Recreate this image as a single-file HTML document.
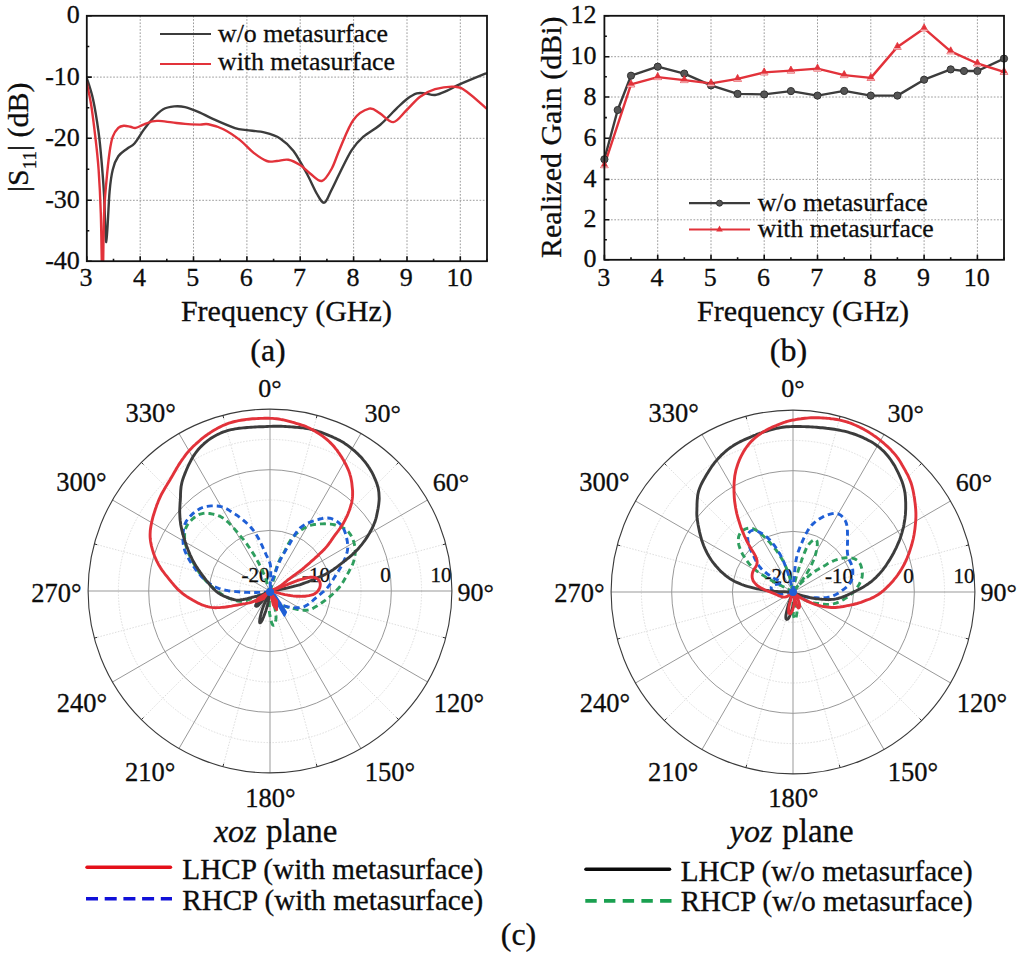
<!DOCTYPE html><html><head><meta charset="utf-8"><style>html,body{margin:0;padding:0;background:#fff;}svg{display:block;}text{font-family:"Liberation Serif",serif;fill:#0d0d0d;stroke:#0d0d0d;stroke-width:0.3px;}</style></head><body>
<svg width="1025" height="959" viewBox="0 0 1025 959">
<line x1="140.2" y1="15.8" x2="140.2" y2="261.2" stroke="#9c9c9c" stroke-width="1" stroke-dasharray="1.7,1.6"/>
<line x1="193.5" y1="15.8" x2="193.5" y2="261.2" stroke="#9c9c9c" stroke-width="1" stroke-dasharray="1.7,1.6"/>
<line x1="246.9" y1="15.8" x2="246.9" y2="261.2" stroke="#9c9c9c" stroke-width="1" stroke-dasharray="1.7,1.6"/>
<line x1="300.2" y1="15.8" x2="300.2" y2="261.2" stroke="#9c9c9c" stroke-width="1" stroke-dasharray="1.7,1.6"/>
<line x1="353.6" y1="15.8" x2="353.6" y2="261.2" stroke="#9c9c9c" stroke-width="1" stroke-dasharray="1.7,1.6"/>
<line x1="407.0" y1="15.8" x2="407.0" y2="261.2" stroke="#9c9c9c" stroke-width="1" stroke-dasharray="1.7,1.6"/>
<line x1="460.3" y1="15.8" x2="460.3" y2="261.2" stroke="#9c9c9c" stroke-width="1" stroke-dasharray="1.7,1.6"/>
<line x1="86.8" y1="77.1" x2="487.0" y2="77.1" stroke="#9c9c9c" stroke-width="1" stroke-dasharray="1.7,1.6"/>
<line x1="86.8" y1="138.3" x2="487.0" y2="138.3" stroke="#9c9c9c" stroke-width="1" stroke-dasharray="1.7,1.6"/>
<line x1="86.8" y1="200.3" x2="487.0" y2="200.3" stroke="#9c9c9c" stroke-width="1" stroke-dasharray="1.7,1.6"/>
<path d="M86.8,261.2 V256.2 M113.5,261.2 V258.7 M140.2,261.2 V256.2 M166.8,261.2 V258.7 M193.5,261.2 V256.2 M220.2,261.2 V258.7 M246.9,261.2 V256.2 M273.6,261.2 V258.7 M300.2,261.2 V256.2 M326.9,261.2 V258.7 M353.6,261.2 V256.2 M380.3,261.2 V258.7 M407.0,261.2 V256.2 M433.6,261.2 V258.7 M460.3,261.2 V256.2 M487.0,261.2 V258.7 M86.8,15.8 H91.8 M86.8,77.1 H91.8 M86.8,138.3 H91.8 M86.8,200.3 H91.8 M86.8,261.2 H91.8 M86.8,46.5 H89.3 M86.8,107.7 H89.3 M86.8,169.3 H89.3 M86.8,230.8 H89.3" stroke="#111" stroke-width="1.6" fill="none"/>
<clipPath id="ca"><rect x="86.8" y="15.8" width="400.2" height="245.4"/></clipPath>
<g clip-path="url(#ca)" fill="none" stroke-linejoin="round" stroke-linecap="round">
<path d="M86.6,77.5 C87.7,81.2 91.1,90.3 93.1,99.4 C95.1,108.5 97.1,121.4 98.6,132.3 C100.1,143.2 101.0,154.5 101.9,165.1 C102.8,175.7 103.4,183.0 104.1,195.8 C104.8,208.6 105.4,242.7 106.3,242.0 C107.2,241.3 108.5,203.5 109.6,191.4 C110.7,179.3 111.3,175.3 112.8,169.5 C114.2,163.7 115.9,159.8 118.3,156.3 C120.7,152.8 124.4,150.9 127.1,148.7 C129.8,146.5 132.0,146.3 134.7,143.2 C137.4,140.1 140.6,134.1 143.5,130.1 C146.4,126.1 149.0,122.6 152.3,119.1 C155.6,115.6 159.5,111.4 163.2,109.3 C166.8,107.2 170.5,106.8 174.2,106.4 C177.8,106.0 180.8,106.1 185.1,107.1 C189.4,108.1 195.6,110.7 200.0,112.6 C204.4,114.5 205.9,115.8 211.7,118.4 C217.5,121.0 229.2,126.1 235.0,128.1 C240.8,130.0 241.7,129.3 246.7,130.1 C251.7,130.8 259.5,131.2 265.1,132.6 C270.7,134.0 275.4,135.3 280.1,138.4 C284.8,141.5 289.1,145.1 293.5,150.9 C297.9,156.8 302.9,166.3 306.8,173.5 C310.7,180.7 314.1,189.1 317.0,194.0 C319.9,198.9 322.0,203.2 324.3,202.7 C326.6,202.2 328.4,196.0 331.0,191.0 C333.6,186.0 336.6,179.3 340.0,172.5 C343.4,165.7 347.8,156.1 351.7,150.1 C355.6,144.1 358.7,140.9 363.4,136.7 C368.1,132.5 374.4,129.7 380.0,125.0 C385.6,120.3 392.2,112.7 396.7,108.4 C401.1,104.1 403.3,101.7 406.7,99.2 C410.1,96.7 413.7,94.4 416.8,93.4 C419.9,92.4 422.1,93.1 425.1,93.4 C428.2,93.7 431.5,95.4 435.1,95.0 C438.7,94.6 442.6,92.7 446.8,90.9 C451.0,89.1 453.5,87.1 460.1,84.2 C466.7,81.3 481.9,75.1 486.3,73.3" stroke="#3c3c3c" stroke-width="2.4"/>
<path d="M86.6,81.9 C87.3,85.6 89.5,94.7 91.0,103.8 C92.5,112.9 94.0,125.6 95.3,136.6 C96.6,147.5 97.7,156.7 98.6,169.5 C99.5,182.3 100.3,197.9 100.8,213.3 C101.3,228.7 101.6,253.9 101.8,262.0 L103.2,262.0 C103.3,253.9 103.6,226.5 104.1,213.3 C104.6,200.1 105.4,192.8 106.3,182.6 C107.2,172.4 108.5,159.7 109.6,152.0 C110.7,144.3 111.3,140.6 112.8,136.6 C114.2,132.6 116.5,129.7 118.3,127.9 C120.1,126.1 121.8,125.9 123.8,125.7 C125.8,125.5 128.4,126.4 130.4,126.8 C132.4,127.2 133.6,128.3 135.8,127.9 C138.0,127.5 140.8,125.7 143.5,124.6 C146.2,123.5 149.8,121.9 152.3,121.3 C154.9,120.7 155.5,120.7 158.8,120.9 C162.1,121.1 167.6,121.9 172.0,122.4 C176.4,122.9 180.4,123.5 185.1,123.9 C189.8,124.3 196.1,124.5 200.0,124.6 C203.9,124.6 204.5,123.4 208.4,124.2 C212.3,125.0 218.1,126.5 223.4,129.2 C228.7,131.8 235.0,136.2 240.0,140.1 C245.0,144.0 248.9,149.1 253.4,152.6 C257.9,156.1 262.9,159.6 266.8,161.0 C270.7,162.4 273.2,161.2 276.8,161.0 C280.4,160.8 284.5,159.1 288.4,159.8 C292.3,160.5 296.5,162.8 300.1,165.1 C303.7,167.4 306.5,170.8 310.1,173.5 C313.7,176.2 318.2,181.8 321.8,181.0 C325.4,180.2 328.8,173.9 331.8,168.5 C334.8,163.1 336.4,156.5 340.0,148.4 C343.6,140.3 348.5,126.6 353.4,120.0 C358.3,113.4 364.8,109.8 369.2,108.7 C373.6,107.6 376.0,111.2 380.0,113.4 C384.0,115.6 388.9,122.7 393.4,122.1 C397.8,121.5 402.2,114.2 406.7,110.0 C411.1,105.8 415.4,100.2 420.1,96.7 C424.8,93.2 429.3,90.9 435.1,89.2 C440.9,87.5 449.8,86.3 455.1,86.7 C460.4,87.1 461.6,88.1 466.8,91.7 C472.0,95.3 483.1,105.6 486.3,108.4" stroke="#e2323a" stroke-width="2.4"/>
</g>
<rect x="86.8" y="15.8" width="400.2" height="245.4" fill="none" stroke="#111" stroke-width="1.8"/>
<line x1="160" y1="34" x2="211" y2="34" stroke="#3c3c3c" stroke-width="2.2"/>
<line x1="160" y1="64" x2="211" y2="64" stroke="#e2323a" stroke-width="2.2"/>
<text x="218.0" y="41.6" font-size="26.0" text-anchor="start" textLength="170" lengthAdjust="spacingAndGlyphs">w/o metasurface</text>
<text x="218.0" y="70.3" font-size="26.0" text-anchor="start" textLength="177" lengthAdjust="spacingAndGlyphs">with metasurface</text>
<text x="86.1" y="286.4" font-size="26.0" text-anchor="middle" >3</text>
<text x="139.5" y="286.4" font-size="26.0" text-anchor="middle" >4</text>
<text x="192.8" y="286.4" font-size="26.0" text-anchor="middle" >5</text>
<text x="246.2" y="286.4" font-size="26.0" text-anchor="middle" >6</text>
<text x="299.5" y="286.4" font-size="26.0" text-anchor="middle" >7</text>
<text x="352.9" y="286.4" font-size="26.0" text-anchor="middle" >8</text>
<text x="406.3" y="286.4" font-size="26.0" text-anchor="middle" >9</text>
<text x="459.6" y="286.4" font-size="26.0" text-anchor="middle" >10</text>
<text x="79.8" y="23.4" font-size="26.0" text-anchor="end" >0</text>
<text x="79.8" y="84.7" font-size="26.0" text-anchor="end" >-10</text>
<text x="79.8" y="145.9" font-size="26.0" text-anchor="end" >-20</text>
<text x="79.8" y="207.9" font-size="26.0" text-anchor="end" >-30</text>
<text x="79.8" y="268.8" font-size="26.0" text-anchor="end" >-40</text>
<text x="286.4" y="321.3" font-size="30.0" text-anchor="middle" textLength="211" lengthAdjust="spacingAndGlyphs">Frequency (GHz)</text>
<text x="268.0" y="361.0" font-size="32.0" text-anchor="middle" >(a)</text>
<text transform="translate(27.8,192) rotate(-90)" font-size="30">|S<tspan font-size="19" dy="8">11</tspan><tspan dy="-8">| (dB)</tspan></text>
<line x1="657.7" y1="15.8" x2="657.7" y2="259.8" stroke="#9c9c9c" stroke-width="1" stroke-dasharray="1.7,1.6"/>
<line x1="711.0" y1="15.8" x2="711.0" y2="259.8" stroke="#9c9c9c" stroke-width="1" stroke-dasharray="1.7,1.6"/>
<line x1="764.2" y1="15.8" x2="764.2" y2="259.8" stroke="#9c9c9c" stroke-width="1" stroke-dasharray="1.7,1.6"/>
<line x1="817.5" y1="15.8" x2="817.5" y2="259.8" stroke="#9c9c9c" stroke-width="1" stroke-dasharray="1.7,1.6"/>
<line x1="870.8" y1="15.8" x2="870.8" y2="259.8" stroke="#9c9c9c" stroke-width="1" stroke-dasharray="1.7,1.6"/>
<line x1="924.1" y1="15.8" x2="924.1" y2="259.8" stroke="#9c9c9c" stroke-width="1" stroke-dasharray="1.7,1.6"/>
<line x1="977.4" y1="15.8" x2="977.4" y2="259.8" stroke="#9c9c9c" stroke-width="1" stroke-dasharray="1.7,1.6"/>
<line x1="604.4" y1="219.8" x2="1004.0" y2="219.8" stroke="#9c9c9c" stroke-width="1" stroke-dasharray="1.7,1.6"/>
<line x1="604.4" y1="179.4" x2="1004.0" y2="179.4" stroke="#9c9c9c" stroke-width="1" stroke-dasharray="1.7,1.6"/>
<line x1="604.4" y1="138.2" x2="1004.0" y2="138.2" stroke="#9c9c9c" stroke-width="1" stroke-dasharray="1.7,1.6"/>
<line x1="604.4" y1="97.0" x2="1004.0" y2="97.0" stroke="#9c9c9c" stroke-width="1" stroke-dasharray="1.7,1.6"/>
<line x1="604.4" y1="56.7" x2="1004.0" y2="56.7" stroke="#9c9c9c" stroke-width="1" stroke-dasharray="1.7,1.6"/>
<path d="M604.4,259.8 V254.8 M631.0,259.8 V257.3 M657.7,259.8 V254.8 M684.3,259.8 V257.3 M711.0,259.8 V254.8 M737.6,259.8 V257.3 M764.2,259.8 V254.8 M790.9,259.8 V257.3 M817.5,259.8 V254.8 M844.2,259.8 V257.3 M870.8,259.8 V254.8 M897.4,259.8 V257.3 M924.1,259.8 V254.8 M950.7,259.8 V257.3 M977.4,259.8 V254.8 M1004.0,259.8 V257.3 M604.4,259.8 H609.4 M604.4,219.8 H609.4 M604.4,179.4 H609.4 M604.4,138.2 H609.4 M604.4,97.0 H609.4 M604.4,56.7 H609.4 M604.4,15.8 H609.4 M604.4,239.8 H606.9 M604.4,199.6 H606.9 M604.4,158.8 H606.9 M604.4,117.6 H606.9 M604.4,76.8 H606.9 M604.4,36.2 H606.9" stroke="#111" stroke-width="1.6" fill="none"/>
<path d="M604.4,159.3 L617.7,110.0 L631.0,75.7 L657.7,66.7 L684.3,73.6 L711.0,85.4 L737.6,93.9 L764.2,94.4 L790.9,91.1 L817.5,95.6 L844.2,90.9 L870.8,95.6 L897.4,95.6 L924.1,79.7 L950.7,69.4 L964.0,71.0 L977.4,71.0 L1004.0,58.6" stroke="#3c3c3c" stroke-width="2.4" fill="none" stroke-linejoin="round"/>
<path d="M604.4,165.2 L631.0,84.4 L657.7,77.1 L684.3,80.1 L711.0,83.4 L737.6,78.9 L764.2,72.4 L790.9,70.6 L817.5,68.6 L844.2,75.1 L870.8,77.9 L897.4,46.9 L924.1,28.4 L950.7,51.3 L977.4,63.5 L1004.0,71.8" stroke="#e2323a" stroke-width="2.4" fill="none" stroke-linejoin="round"/>
<circle cx="604.4" cy="159.3" r="3.6" fill="#555" stroke="#333" stroke-width="1"/>
<circle cx="617.7" cy="110.0" r="3.6" fill="#555" stroke="#333" stroke-width="1"/>
<circle cx="631.0" cy="75.7" r="3.6" fill="#555" stroke="#333" stroke-width="1"/>
<circle cx="657.7" cy="66.7" r="3.6" fill="#555" stroke="#333" stroke-width="1"/>
<circle cx="684.3" cy="73.6" r="3.6" fill="#555" stroke="#333" stroke-width="1"/>
<circle cx="711.0" cy="85.4" r="3.6" fill="#555" stroke="#333" stroke-width="1"/>
<circle cx="737.6" cy="93.9" r="3.6" fill="#555" stroke="#333" stroke-width="1"/>
<circle cx="764.2" cy="94.4" r="3.6" fill="#555" stroke="#333" stroke-width="1"/>
<circle cx="790.9" cy="91.1" r="3.6" fill="#555" stroke="#333" stroke-width="1"/>
<circle cx="817.5" cy="95.6" r="3.6" fill="#555" stroke="#333" stroke-width="1"/>
<circle cx="844.2" cy="90.9" r="3.6" fill="#555" stroke="#333" stroke-width="1"/>
<circle cx="870.8" cy="95.6" r="3.6" fill="#555" stroke="#333" stroke-width="1"/>
<circle cx="897.4" cy="95.6" r="3.6" fill="#555" stroke="#333" stroke-width="1"/>
<circle cx="924.1" cy="79.7" r="3.6" fill="#555" stroke="#333" stroke-width="1"/>
<circle cx="950.7" cy="69.4" r="3.6" fill="#555" stroke="#333" stroke-width="1"/>
<circle cx="964.0" cy="71.0" r="3.6" fill="#555" stroke="#333" stroke-width="1"/>
<circle cx="977.4" cy="71.0" r="3.6" fill="#555" stroke="#333" stroke-width="1"/>
<circle cx="1004.0" cy="58.6" r="3.6" fill="#555" stroke="#333" stroke-width="1"/>
<path d="M604.4,160.7 L608.2,167.7 L600.6,167.7 Z" fill="#e2323a" stroke="#e2323a" stroke-width="0.8"/>
<rect x="600.9" y="166.4" width="7" height="1.5" fill="#f4b0b4"/>
<path d="M631.0,79.9 L634.8,86.9 L627.2,86.9 Z" fill="#e2323a" stroke="#e2323a" stroke-width="0.8"/>
<rect x="627.5" y="85.6" width="7" height="1.5" fill="#f4b0b4"/>
<path d="M657.7,72.6 L661.5,79.6 L653.9,79.6 Z" fill="#e2323a" stroke="#e2323a" stroke-width="0.8"/>
<rect x="654.2" y="78.3" width="7" height="1.5" fill="#f4b0b4"/>
<path d="M684.3,75.6 L688.1,82.6 L680.5,82.6 Z" fill="#e2323a" stroke="#e2323a" stroke-width="0.8"/>
<rect x="680.8" y="81.3" width="7" height="1.5" fill="#f4b0b4"/>
<path d="M711.0,78.9 L714.8,85.9 L707.2,85.9 Z" fill="#e2323a" stroke="#e2323a" stroke-width="0.8"/>
<rect x="707.5" y="84.6" width="7" height="1.5" fill="#f4b0b4"/>
<path d="M737.6,74.4 L741.4,81.4 L733.8,81.4 Z" fill="#e2323a" stroke="#e2323a" stroke-width="0.8"/>
<rect x="734.1" y="80.1" width="7" height="1.5" fill="#f4b0b4"/>
<path d="M764.2,67.9 L768.0,74.9 L760.4,74.9 Z" fill="#e2323a" stroke="#e2323a" stroke-width="0.8"/>
<rect x="760.7" y="73.6" width="7" height="1.5" fill="#f4b0b4"/>
<path d="M790.9,66.1 L794.7,73.1 L787.1,73.1 Z" fill="#e2323a" stroke="#e2323a" stroke-width="0.8"/>
<rect x="787.4" y="71.8" width="7" height="1.5" fill="#f4b0b4"/>
<path d="M817.5,64.1 L821.3,71.1 L813.7,71.1 Z" fill="#e2323a" stroke="#e2323a" stroke-width="0.8"/>
<rect x="814.0" y="69.8" width="7" height="1.5" fill="#f4b0b4"/>
<path d="M844.2,70.6 L848.0,77.6 L840.4,77.6 Z" fill="#e2323a" stroke="#e2323a" stroke-width="0.8"/>
<rect x="840.7" y="76.3" width="7" height="1.5" fill="#f4b0b4"/>
<path d="M870.8,73.4 L874.6,80.4 L867.0,80.4 Z" fill="#e2323a" stroke="#e2323a" stroke-width="0.8"/>
<rect x="867.3" y="79.1" width="7" height="1.5" fill="#f4b0b4"/>
<path d="M897.4,42.4 L901.2,49.4 L893.6,49.4 Z" fill="#e2323a" stroke="#e2323a" stroke-width="0.8"/>
<rect x="893.9" y="48.1" width="7" height="1.5" fill="#f4b0b4"/>
<path d="M924.1,23.9 L927.9,30.9 L920.3,30.9 Z" fill="#e2323a" stroke="#e2323a" stroke-width="0.8"/>
<rect x="920.6" y="29.6" width="7" height="1.5" fill="#f4b0b4"/>
<path d="M950.7,46.8 L954.5,53.8 L946.9,53.8 Z" fill="#e2323a" stroke="#e2323a" stroke-width="0.8"/>
<rect x="947.2" y="52.5" width="7" height="1.5" fill="#f4b0b4"/>
<path d="M977.4,59.0 L981.2,66.0 L973.6,66.0 Z" fill="#e2323a" stroke="#e2323a" stroke-width="0.8"/>
<rect x="973.9" y="64.7" width="7" height="1.5" fill="#f4b0b4"/>
<path d="M1004.0,67.3 L1007.8,74.3 L1000.2,74.3 Z" fill="#e2323a" stroke="#e2323a" stroke-width="0.8"/>
<rect x="1000.5" y="73.0" width="7" height="1.5" fill="#f4b0b4"/>
<rect x="604.4" y="15.8" width="399.6" height="244.0" fill="none" stroke="#111" stroke-width="1.8"/>
<line x1="689" y1="203.2" x2="750" y2="203.2" stroke="#3c3c3c" stroke-width="2.2"/>
<circle cx="719.5" cy="203.2" r="3" fill="#555" stroke="#333" stroke-width="1"/>
<line x1="689" y1="229.5" x2="750" y2="229.5" stroke="#e2323a" stroke-width="2.2"/>
<path d="M719.5,225.5 L722.8,231.5 L716.2,231.5 Z" fill="#e2323a"/>
<text x="757.7" y="211.1" font-size="26.0" text-anchor="start" textLength="170" lengthAdjust="spacingAndGlyphs">w/o metasurface</text>
<text x="757.7" y="237.4" font-size="26.0" text-anchor="start" textLength="176" lengthAdjust="spacingAndGlyphs">with metasurface</text>
<text x="603.7" y="286.4" font-size="26.0" text-anchor="middle" >3</text>
<text x="657.0" y="286.4" font-size="26.0" text-anchor="middle" >4</text>
<text x="710.3" y="286.4" font-size="26.0" text-anchor="middle" >5</text>
<text x="763.5" y="286.4" font-size="26.0" text-anchor="middle" >6</text>
<text x="816.8" y="286.4" font-size="26.0" text-anchor="middle" >7</text>
<text x="870.1" y="286.4" font-size="26.0" text-anchor="middle" >8</text>
<text x="923.4" y="286.4" font-size="26.0" text-anchor="middle" >9</text>
<text x="976.7" y="286.4" font-size="26.0" text-anchor="middle" >10</text>
<text x="596.5" y="267.3" font-size="26.0" text-anchor="end" >0</text>
<text x="596.5" y="227.3" font-size="26.0" text-anchor="end" >2</text>
<text x="596.5" y="186.9" font-size="26.0" text-anchor="end" >4</text>
<text x="596.5" y="145.7" font-size="26.0" text-anchor="end" >6</text>
<text x="596.5" y="104.5" font-size="26.0" text-anchor="end" >8</text>
<text x="596.5" y="64.2" font-size="26.0" text-anchor="end" >10</text>
<text x="596.5" y="23.3" font-size="26.0" text-anchor="end" >12</text>
<text x="803.0" y="321.3" font-size="30.0" text-anchor="middle" textLength="212" lengthAdjust="spacingAndGlyphs">Frequency (GHz)</text>
<text x="788.5" y="360.5" font-size="32.0" text-anchor="middle" >(b)</text>
<text transform="translate(561,258) rotate(-90)" font-size="30">Realized Gain (dBi)</text>
<circle cx="270.0" cy="591.0" r="30.3" fill="none" stroke="#dedede" stroke-width="1" stroke-dasharray="1.5,1.5"/>
<circle cx="270.0" cy="591.0" r="91.0" fill="none" stroke="#dedede" stroke-width="1" stroke-dasharray="1.5,1.5"/>
<circle cx="270.0" cy="591.0" r="151.6" fill="none" stroke="#dedede" stroke-width="1" stroke-dasharray="1.5,1.5"/>
<line x1="270.0" y1="591.0" x2="317.1" y2="415.3" stroke="#dedede" stroke-width="1" stroke-dasharray="1.5,1.5"/>
<line x1="270.0" y1="591.0" x2="398.6" y2="462.4" stroke="#dedede" stroke-width="1" stroke-dasharray="1.5,1.5"/>
<line x1="270.0" y1="591.0" x2="445.7" y2="543.9" stroke="#dedede" stroke-width="1" stroke-dasharray="1.5,1.5"/>
<line x1="270.0" y1="591.0" x2="445.7" y2="638.1" stroke="#dedede" stroke-width="1" stroke-dasharray="1.5,1.5"/>
<line x1="270.0" y1="591.0" x2="398.6" y2="719.6" stroke="#dedede" stroke-width="1" stroke-dasharray="1.5,1.5"/>
<line x1="270.0" y1="591.0" x2="317.1" y2="766.7" stroke="#dedede" stroke-width="1" stroke-dasharray="1.5,1.5"/>
<line x1="270.0" y1="591.0" x2="222.9" y2="766.7" stroke="#dedede" stroke-width="1" stroke-dasharray="1.5,1.5"/>
<line x1="270.0" y1="591.0" x2="141.4" y2="719.6" stroke="#dedede" stroke-width="1" stroke-dasharray="1.5,1.5"/>
<line x1="270.0" y1="591.0" x2="94.3" y2="638.1" stroke="#dedede" stroke-width="1" stroke-dasharray="1.5,1.5"/>
<line x1="270.0" y1="591.0" x2="94.3" y2="543.9" stroke="#dedede" stroke-width="1" stroke-dasharray="1.5,1.5"/>
<line x1="270.0" y1="591.0" x2="141.4" y2="462.4" stroke="#dedede" stroke-width="1" stroke-dasharray="1.5,1.5"/>
<line x1="270.0" y1="591.0" x2="222.9" y2="415.3" stroke="#dedede" stroke-width="1" stroke-dasharray="1.5,1.5"/>
<line x1="270.0" y1="591.0" x2="270.0" y2="409.1" stroke="#999" stroke-width="1"/>
<line x1="270.0" y1="591.0" x2="360.9" y2="433.5" stroke="#999" stroke-width="1"/>
<line x1="270.0" y1="591.0" x2="427.5" y2="500.0" stroke="#999" stroke-width="1"/>
<line x1="270.0" y1="591.0" x2="451.9" y2="591.0" stroke="#999" stroke-width="1"/>
<line x1="270.0" y1="591.0" x2="427.5" y2="681.9" stroke="#999" stroke-width="1"/>
<line x1="270.0" y1="591.0" x2="360.9" y2="748.5" stroke="#999" stroke-width="1"/>
<line x1="270.0" y1="591.0" x2="270.0" y2="772.9" stroke="#999" stroke-width="1"/>
<line x1="270.0" y1="591.0" x2="179.0" y2="748.5" stroke="#999" stroke-width="1"/>
<line x1="270.0" y1="591.0" x2="112.5" y2="682.0" stroke="#999" stroke-width="1"/>
<line x1="270.0" y1="591.0" x2="88.1" y2="591.0" stroke="#999" stroke-width="1"/>
<line x1="270.0" y1="591.0" x2="112.5" y2="500.0" stroke="#999" stroke-width="1"/>
<line x1="270.0" y1="591.0" x2="179.0" y2="433.5" stroke="#999" stroke-width="1"/>
<circle cx="270.0" cy="591.0" r="60.6" fill="none" stroke="#999" stroke-width="1"/>
<circle cx="270.0" cy="591.0" r="121.3" fill="none" stroke="#999" stroke-width="1"/>
<circle cx="270.0" cy="591.0" r="181.9" fill="none" stroke="#3a3a3a" stroke-width="1.1"/>
<path d="M317.1,415.3 L316.3,418.2 M398.6,462.4 L396.5,464.5 M445.7,543.9 L442.8,544.7 M445.7,638.1 L442.8,637.3 M398.6,719.6 L396.5,717.5 M317.1,766.7 L316.3,763.8 M222.9,766.7 L223.7,763.8 M141.4,719.6 L143.5,717.5 M94.3,638.1 L97.2,637.3 M94.3,543.9 L97.2,544.7 M141.4,462.4 L143.5,464.5 M222.9,415.3 L223.7,418.2" stroke="#333" stroke-width="1"/>
<text x="270.0" y="396.5" font-size="26.0" text-anchor="middle" >0°</text>
<text x="382.6" y="421.8" font-size="26.0" text-anchor="middle" >30°</text>
<text x="451.0" y="490.8" font-size="26.0" text-anchor="middle" >60°</text>
<text x="475.8" y="600.9" font-size="26.0" text-anchor="middle" >90°</text>
<text x="459.0" y="712.4" font-size="26.5" text-anchor="middle" >120°</text>
<text x="390.0" y="781.4" font-size="26.5" text-anchor="middle" >150°</text>
<text x="270.5" y="807.3" font-size="26.5" text-anchor="middle" >180°</text>
<text x="150.3" y="781.4" font-size="26.5" text-anchor="middle" >210°</text>
<text x="81.9" y="712.4" font-size="26.5" text-anchor="middle" >240°</text>
<text x="56.4" y="602.1" font-size="26.5" text-anchor="middle" >270°</text>
<text x="81.5" y="491.3" font-size="26.5" text-anchor="middle" >300°</text>
<text x="150.6" y="422.2" font-size="26.5" text-anchor="middle" >330°</text>
<text x="269.5" y="582.0" font-size="21.0" text-anchor="end" >-20</text>
<text x="330.1" y="582.0" font-size="21.0" text-anchor="end" >-10</text>
<text x="390.8" y="582.0" font-size="21.0" text-anchor="end" >0</text>
<text x="451.4" y="582.0" font-size="21.0" text-anchor="end" >10</text>
<circle cx="793.0" cy="592.0" r="30.3" fill="none" stroke="#dedede" stroke-width="1" stroke-dasharray="1.5,1.5"/>
<circle cx="793.0" cy="592.0" r="91.0" fill="none" stroke="#dedede" stroke-width="1" stroke-dasharray="1.5,1.5"/>
<circle cx="793.0" cy="592.0" r="151.6" fill="none" stroke="#dedede" stroke-width="1" stroke-dasharray="1.5,1.5"/>
<line x1="793.0" y1="592.0" x2="840.1" y2="416.3" stroke="#dedede" stroke-width="1" stroke-dasharray="1.5,1.5"/>
<line x1="793.0" y1="592.0" x2="921.6" y2="463.4" stroke="#dedede" stroke-width="1" stroke-dasharray="1.5,1.5"/>
<line x1="793.0" y1="592.0" x2="968.7" y2="544.9" stroke="#dedede" stroke-width="1" stroke-dasharray="1.5,1.5"/>
<line x1="793.0" y1="592.0" x2="968.7" y2="639.1" stroke="#dedede" stroke-width="1" stroke-dasharray="1.5,1.5"/>
<line x1="793.0" y1="592.0" x2="921.6" y2="720.6" stroke="#dedede" stroke-width="1" stroke-dasharray="1.5,1.5"/>
<line x1="793.0" y1="592.0" x2="840.1" y2="767.7" stroke="#dedede" stroke-width="1" stroke-dasharray="1.5,1.5"/>
<line x1="793.0" y1="592.0" x2="745.9" y2="767.7" stroke="#dedede" stroke-width="1" stroke-dasharray="1.5,1.5"/>
<line x1="793.0" y1="592.0" x2="664.4" y2="720.6" stroke="#dedede" stroke-width="1" stroke-dasharray="1.5,1.5"/>
<line x1="793.0" y1="592.0" x2="617.3" y2="639.1" stroke="#dedede" stroke-width="1" stroke-dasharray="1.5,1.5"/>
<line x1="793.0" y1="592.0" x2="617.3" y2="544.9" stroke="#dedede" stroke-width="1" stroke-dasharray="1.5,1.5"/>
<line x1="793.0" y1="592.0" x2="664.4" y2="463.4" stroke="#dedede" stroke-width="1" stroke-dasharray="1.5,1.5"/>
<line x1="793.0" y1="592.0" x2="745.9" y2="416.3" stroke="#dedede" stroke-width="1" stroke-dasharray="1.5,1.5"/>
<line x1="793.0" y1="592.0" x2="793.0" y2="410.1" stroke="#999" stroke-width="1"/>
<line x1="793.0" y1="592.0" x2="884.0" y2="434.5" stroke="#999" stroke-width="1"/>
<line x1="793.0" y1="592.0" x2="950.5" y2="501.0" stroke="#999" stroke-width="1"/>
<line x1="793.0" y1="592.0" x2="974.9" y2="592.0" stroke="#999" stroke-width="1"/>
<line x1="793.0" y1="592.0" x2="950.5" y2="682.9" stroke="#999" stroke-width="1"/>
<line x1="793.0" y1="592.0" x2="884.0" y2="749.5" stroke="#999" stroke-width="1"/>
<line x1="793.0" y1="592.0" x2="793.0" y2="773.9" stroke="#999" stroke-width="1"/>
<line x1="793.0" y1="592.0" x2="702.0" y2="749.5" stroke="#999" stroke-width="1"/>
<line x1="793.0" y1="592.0" x2="635.5" y2="683.0" stroke="#999" stroke-width="1"/>
<line x1="793.0" y1="592.0" x2="611.1" y2="592.0" stroke="#999" stroke-width="1"/>
<line x1="793.0" y1="592.0" x2="635.5" y2="501.0" stroke="#999" stroke-width="1"/>
<line x1="793.0" y1="592.0" x2="702.0" y2="434.5" stroke="#999" stroke-width="1"/>
<circle cx="793.0" cy="592.0" r="60.6" fill="none" stroke="#999" stroke-width="1"/>
<circle cx="793.0" cy="592.0" r="121.3" fill="none" stroke="#999" stroke-width="1"/>
<circle cx="793.0" cy="592.0" r="181.9" fill="none" stroke="#3a3a3a" stroke-width="1.1"/>
<path d="M840.1,416.3 L839.3,419.2 M921.6,463.4 L919.5,465.5 M968.7,544.9 L965.8,545.7 M968.7,639.1 L965.8,638.3 M921.6,720.6 L919.5,718.5 M840.1,767.7 L839.3,764.8 M745.9,767.7 L746.7,764.8 M664.4,720.6 L666.5,718.5 M617.3,639.1 L620.2,638.3 M617.3,544.9 L620.2,545.7 M664.4,463.4 L666.5,465.5 M745.9,416.3 L746.7,419.2" stroke="#333" stroke-width="1"/>
<text x="793.0" y="396.5" font-size="26.0" text-anchor="middle" >0°</text>
<text x="905.6" y="421.8" font-size="26.0" text-anchor="middle" >30°</text>
<text x="974.0" y="490.8" font-size="26.0" text-anchor="middle" >60°</text>
<text x="998.8" y="600.9" font-size="26.0" text-anchor="middle" >90°</text>
<text x="982.0" y="712.4" font-size="26.5" text-anchor="middle" >120°</text>
<text x="913.0" y="781.4" font-size="26.5" text-anchor="middle" >150°</text>
<text x="793.5" y="807.3" font-size="26.5" text-anchor="middle" >180°</text>
<text x="673.3" y="781.4" font-size="26.5" text-anchor="middle" >210°</text>
<text x="604.9" y="712.4" font-size="26.5" text-anchor="middle" >240°</text>
<text x="579.4" y="602.1" font-size="26.5" text-anchor="middle" >270°</text>
<text x="604.5" y="491.3" font-size="26.5" text-anchor="middle" >300°</text>
<text x="673.6" y="422.2" font-size="26.5" text-anchor="middle" >330°</text>
<text x="792.5" y="583.0" font-size="21.0" text-anchor="end" >-20</text>
<text x="853.1" y="583.0" font-size="21.0" text-anchor="end" >-10</text>
<text x="913.8" y="583.0" font-size="21.0" text-anchor="end" >0</text>
<text x="974.4" y="583.0" font-size="21.0" text-anchor="end" >10</text>
<path d="M270.0,591.0 L268.1,591.8 L266.3,592.6 L264.4,593.4 L262.6,594.1 L260.7,594.9 L258.9,595.7 L257.0,596.4 L255.1,597.2 L253.2,597.9 L251.3,598.6 L249.5,599.3 L247.6,600.0 L245.6,600.6 L243.7,601.0 L241.7,601.2 L239.7,601.2 L237.7,601.0 L235.8,600.6 L233.8,600.1 L231.9,599.4 L230.0,598.7 L228.2,597.9 L226.4,597.0 L224.6,596.1 L222.9,595.0 L221.2,594.0 L219.5,592.8 L217.9,591.7 L216.3,590.4 L214.7,589.2 L213.2,587.9 L211.7,586.5 L210.2,585.2 L208.8,583.8 L207.3,582.3 L206.0,580.9 L204.6,579.4 L203.3,577.8 L202.0,576.3 L200.8,574.7 L199.6,573.1 L198.5,571.4 L197.4,569.7 L196.3,568.0 L195.3,566.3 L194.3,564.5 L193.3,562.8 L192.3,561.0 L191.4,559.2 L190.5,557.4 L189.6,555.6 L188.7,553.8 L188.0,551.9 L187.2,550.1 L186.6,548.2 L186.0,546.2 L185.5,544.3 L185.1,542.3 L184.8,540.3 L184.6,538.3 L184.6,536.3 L184.6,534.3 L184.8,532.3 L185.2,530.3 L185.7,528.4 L186.5,526.6 L187.5,524.8 L188.6,523.2 L189.9,521.6 L191.3,520.2 L192.7,518.8 L194.3,517.5 L195.9,516.3 L197.6,515.3 L199.4,514.4 L201.3,513.8 L203.2,513.4 L205.2,513.2 L207.2,513.3 L209.2,513.5 L211.2,513.8 L213.1,514.2 L215.1,514.7 L217.0,515.3 L218.9,515.9 L220.8,516.7 L222.5,517.7 L224.2,518.8 L225.7,520.0 L227.2,521.4 L228.7,522.8 L230.1,524.2 L231.5,525.7 L232.9,527.1 L234.2,528.6 L235.5,530.2 L236.9,531.7 L238.2,533.2 L239.5,534.8 L240.7,536.3 L242.0,537.9 L243.3,539.4 L244.5,541.0 L245.8,542.6 L247.0,544.2 L248.1,545.9 L249.3,547.5 L250.4,549.2 L251.5,550.9 L252.6,552.6 L253.7,554.3 L254.7,556.0 L255.8,557.7 L256.7,559.5 L257.7,561.2 L258.7,563.0 L259.6,564.8 L260.5,566.6 L261.4,568.4 L262.2,570.2 L263.0,572.1 L263.8,574.0 L264.5,575.8 L265.2,577.7 L265.9,579.6 L266.6,581.5 L267.3,583.4 L268.0,585.3 L268.7,587.2 L269.3,589.1 L270.0,591.0 L270.0,591.0" stroke="#2e9e5e" stroke-width="2.9" fill="none" stroke-linejoin="round" stroke-dasharray="6,4"/>
<path d="M270.0,591.0 L270.6,589.1 L271.3,587.2 L271.9,585.3 L272.5,583.3 L273.1,581.4 L273.6,579.5 L274.2,577.6 L274.6,575.6 L275.1,573.6 L275.5,571.7 L276.0,569.7 L276.5,567.8 L277.1,565.9 L277.8,564.0 L278.6,562.1 L279.5,560.3 L280.4,558.6 L281.5,556.8 L282.5,555.1 L283.5,553.4 L284.5,551.6 L285.4,549.8 L286.3,548.0 L287.2,546.2 L288.1,544.4 L289.0,542.7 L290.1,540.9 L291.2,539.3 L292.4,537.7 L293.8,536.2 L295.2,534.8 L296.7,533.5 L298.2,532.2 L299.8,530.9 L301.4,529.8 L303.1,528.7 L304.9,527.7 L306.7,526.8 L308.5,526.0 L310.4,525.4 L312.4,524.9 L314.3,524.5 L316.3,524.3 L318.3,524.1 L320.3,523.9 L322.3,523.9 L324.3,523.8 L326.4,523.9 L328.4,524.0 L330.4,524.1 L332.4,524.4 L334.3,524.7 L336.3,525.2 L338.2,525.7 L340.1,526.4 L341.9,527.2 L343.7,528.2 L345.4,529.3 L346.9,530.5 L348.4,531.9 L349.6,533.4 L350.8,535.1 L351.7,536.8 L352.6,538.7 L353.3,540.5 L353.9,542.4 L354.4,544.4 L354.8,546.3 L355.1,548.3 L355.2,550.3 L355.2,552.3 L355.1,554.3 L354.8,556.3 L354.5,558.3 L354.0,560.2 L353.4,562.2 L352.7,564.0 L351.9,565.9 L351.0,567.7 L350.0,569.4 L349.1,571.2 L348.1,573.0 L347.1,574.7 L346.2,576.5 L345.2,578.2 L344.2,580.0 L343.2,581.7 L342.1,583.4 L341.0,585.1 L339.8,586.7 L338.5,588.2 L337.1,589.7 L335.7,591.2 L334.3,592.6 L332.8,594.0 L331.3,595.3 L329.8,596.6 L328.3,597.9 L326.7,599.1 L325.1,600.4 L323.5,601.5 L321.8,602.7 L320.1,603.8 L318.5,604.9 L316.8,606.1 L315.1,607.1 L313.4,608.1 L311.6,609.0 L309.7,609.7 L307.8,610.1 L305.8,610.3 L303.8,610.2 L301.8,610.1 L299.8,609.8 L297.8,609.5 L295.8,609.1 L293.9,608.7 L291.9,608.2 L290.0,607.8 L288.0,607.3 L286.1,606.7 L284.2,606.0 L282.4,605.1 L280.7,604.1 L279.1,602.9 L277.7,601.6 L276.3,600.1 L275.1,598.5 L273.9,596.8 L272.8,595.2 L271.7,593.5 L270.6,591.8 L270.0,591.0" stroke="#2e9e5e" stroke-width="2.9" fill="none" stroke-linejoin="round" stroke-dasharray="6,4"/>
<path d="M270.0,591.0 L269.9,593.0 L269.8,595.1 L269.7,597.1 L269.5,599.1 L269.4,601.2 L269.3,603.2 L269.3,605.2 L269.3,607.3 L269.3,609.3 L269.4,611.3 L269.6,613.4 L269.9,615.4 L270.3,617.4 L270.7,619.4 L271.2,621.3 L271.8,623.2 L272.6,624.7 L273.4,625.4 L274.3,625.0 L275.0,623.6 L275.5,621.7 L275.8,619.7 L276.0,617.7 L276.0,615.7 L275.8,613.6 L275.6,611.6 L275.2,609.6 L274.7,607.7 L274.2,605.7 L273.7,603.7 L273.2,601.7 L272.6,599.8 L272.0,597.8 L271.4,595.9 L270.9,593.9 L270.3,592.0 L270.0,591.0" stroke="#2e9e5e" stroke-width="2.9" fill="none" stroke-linejoin="round" stroke-dasharray="6,4"/>
<path d="M270.0,591.0 L268.2,591.6 L266.3,592.0 L264.3,592.2 L262.3,592.3 L260.3,592.4 L258.3,592.4 L256.3,592.5 L254.3,592.5 L252.3,592.5 L250.3,592.5 L248.2,592.4 L246.2,592.4 L244.2,592.3 L242.2,592.1 L240.2,592.0 L238.2,591.8 L236.2,591.6 L234.2,591.4 L232.2,591.2 L230.2,591.0 L228.2,590.7 L226.3,590.3 L224.3,589.9 L222.3,589.5 L220.4,588.9 L218.5,588.3 L216.6,587.5 L214.8,586.7 L213.1,585.8 L211.3,584.7 L209.7,583.6 L208.0,582.4 L206.5,581.2 L205.0,579.9 L203.5,578.5 L202.1,577.1 L200.7,575.7 L199.4,574.1 L198.1,572.6 L196.8,571.0 L195.6,569.4 L194.5,567.8 L193.3,566.1 L192.2,564.5 L191.1,562.8 L190.0,561.1 L189.0,559.4 L188.0,557.6 L187.0,555.8 L186.2,554.0 L185.4,552.2 L184.7,550.3 L184.1,548.4 L183.7,546.4 L183.3,544.5 L183.1,542.5 L183.0,540.5 L182.9,538.5 L182.9,536.5 L183.0,534.5 L183.2,532.5 L183.4,530.5 L183.7,528.5 L184.1,526.5 L184.7,524.6 L185.5,522.8 L186.4,521.0 L187.6,519.4 L188.8,517.8 L190.2,516.3 L191.6,514.9 L193.0,513.5 L194.6,512.2 L196.2,511.0 L197.8,509.9 L199.5,508.9 L201.3,508.0 L203.2,507.3 L205.1,506.7 L207.1,506.4 L209.1,506.1 L211.1,505.9 L213.1,505.9 L215.1,505.9 L217.1,506.0 L219.1,506.3 L221.0,506.6 L222.9,507.2 L224.8,507.9 L226.6,508.8 L228.3,509.8 L230.0,510.9 L231.7,511.9 L233.4,513.0 L235.1,514.1 L236.8,515.2 L238.4,516.4 L240.0,517.6 L241.6,518.8 L243.2,520.1 L244.7,521.4 L246.2,522.7 L247.7,524.1 L249.1,525.5 L250.5,527.0 L251.8,528.5 L253.1,530.0 L254.3,531.6 L255.4,533.3 L256.5,535.0 L257.5,536.7 L258.5,538.5 L259.4,540.3 L260.3,542.0 L261.2,543.8 L262.1,545.7 L262.9,547.5 L263.7,549.3 L264.5,551.2 L265.4,553.0 L266.2,554.8 L267.1,556.6 L268.0,558.4 L268.9,560.2 L269.6,562.1 L270.2,564.0 L270.5,565.9 L270.7,567.9 L270.8,569.9 L270.8,571.9 L270.7,573.9 L270.6,575.9 L270.6,578.0 L270.5,580.0 L270.4,582.0 L270.3,584.0 L270.3,586.0 L270.2,588.0 L270.1,590.0 L270.0,591.0" stroke="#1f5fd6" stroke-width="2.9" fill="none" stroke-linejoin="round" stroke-dasharray="6,4"/>
<path d="M270.0,591.0 L270.3,589.0 L270.7,587.0 L271.0,585.1 L271.5,583.1 L272.0,581.2 L272.6,579.2 L273.3,577.4 L274.0,575.5 L274.7,573.6 L275.5,571.7 L276.2,569.9 L276.9,568.0 L277.7,566.1 L278.4,564.3 L279.2,562.4 L280.0,560.6 L280.9,558.8 L281.8,557.0 L282.8,555.2 L283.8,553.5 L284.8,551.8 L285.8,550.0 L286.9,548.3 L288.0,546.6 L289.0,544.9 L290.0,543.2 L291.0,541.4 L292.0,539.7 L293.0,537.9 L294.0,536.2 L295.0,534.4 L296.1,532.8 L297.3,531.1 L298.6,529.6 L299.9,528.2 L301.5,526.9 L303.1,525.7 L304.8,524.7 L306.6,523.7 L308.4,522.9 L310.2,522.1 L312.1,521.4 L314.0,520.8 L315.9,520.1 L317.9,519.6 L319.8,519.0 L321.7,518.6 L323.7,518.2 L325.7,518.0 L327.7,518.0 L329.7,518.2 L331.6,518.7 L333.5,519.4 L335.2,520.3 L336.9,521.3 L338.5,522.5 L340.0,523.9 L341.4,525.3 L342.5,526.9 L343.6,528.7 L344.4,530.5 L345.1,532.4 L345.7,534.3 L346.2,536.2 L346.7,538.2 L347.1,540.1 L347.4,542.1 L347.6,544.1 L347.7,546.1 L347.7,548.1 L347.5,550.1 L347.1,552.1 L346.6,554.0 L346.0,555.9 L345.3,557.8 L344.5,559.6 L343.7,561.5 L342.8,563.3 L341.9,565.1 L341.0,566.8 L340.0,568.6 L338.9,570.3 L337.8,572.0 L336.8,573.7 L335.7,575.4 L334.6,577.1 L333.6,578.8 L332.5,580.5 L331.4,582.2 L330.3,583.9 L329.2,585.5 L327.9,587.1 L326.6,588.6 L325.1,590.0 L323.7,591.4 L322.1,592.6 L320.6,593.9 L319.0,595.2 L317.5,596.5 L315.9,597.8 L314.4,599.1 L312.9,600.5 L311.4,601.8 L309.9,603.1 L308.3,604.3 L306.6,605.4 L304.8,606.3 L303.0,607.0 L301.0,607.4 L299.1,607.7 L297.1,607.8 L295.1,607.7 L293.1,607.6 L291.1,607.4 L289.1,607.1 L287.1,606.7 L285.2,606.2 L283.3,605.5 L281.5,604.6 L279.9,603.5 L278.4,602.2 L277.0,600.8 L275.8,599.2 L274.6,597.6 L273.4,596.0 L272.3,594.3 L271.1,592.7 L270.0,591.0 L270.0,591.0" stroke="#1f5fd6" stroke-width="2.9" fill="none" stroke-linejoin="round" stroke-dasharray="6,4"/>
<path d="M270.0,591.0 L268.2,591.9 L266.4,592.7 L264.5,593.5 L262.7,594.3 L260.8,595.0 L258.9,595.6 L257.0,596.2 L255.0,596.7 L253.1,597.2 L251.2,597.7 L249.2,598.2 L247.3,598.7 L245.3,599.1 L243.3,599.5 L241.4,599.8 L239.4,600.1 L237.4,600.1 L235.4,599.9 L233.5,599.5 L231.6,598.9 L229.7,598.3 L227.8,597.6 L225.9,596.9 L224.0,596.2 L222.2,595.3 L220.5,594.4 L218.8,593.3 L217.2,592.1 L215.6,590.8 L214.2,589.5 L212.8,588.1 L211.4,586.6 L210.1,585.1 L208.8,583.5 L207.6,581.9 L206.3,580.4 L205.1,578.8 L203.9,577.2 L202.7,575.6 L201.5,574.0 L200.3,572.4 L199.1,570.7 L198.0,569.1 L196.9,567.4 L195.8,565.7 L194.8,564.0 L193.8,562.2 L192.8,560.5 L191.9,558.7 L191.1,556.9 L190.2,555.0 L189.4,553.2 L188.7,551.4 L187.9,549.5 L187.2,547.6 L186.5,545.7 L185.9,543.8 L185.2,541.9 L184.6,540.0 L184.0,538.1 L183.4,536.2 L182.9,534.3 L182.4,532.3 L181.9,530.4 L181.5,528.4 L181.1,526.4 L180.7,524.5 L180.5,522.5 L180.2,520.5 L180.0,518.5 L179.9,516.5 L179.8,514.5 L179.7,512.5 L179.7,510.5 L179.8,508.5 L179.9,506.5 L180.0,504.5 L180.1,502.5 L180.3,500.5 L180.4,498.5 L180.5,496.5 L180.5,494.5 L180.6,492.5 L180.7,490.5 L180.9,488.5 L181.1,486.5 L181.5,484.5 L181.9,482.5 L182.4,480.6 L183.0,478.7 L183.7,476.8 L184.4,474.9 L185.1,473.1 L185.9,471.2 L186.7,469.3 L187.5,467.5 L188.3,465.7 L189.2,463.9 L190.1,462.1 L191.0,460.3 L192.0,458.6 L193.0,456.8 L194.1,455.1 L195.2,453.5 L196.4,451.9 L197.6,450.3 L198.9,448.8 L200.3,447.3 L201.7,445.9 L203.2,444.5 L204.6,443.1 L206.2,441.8 L207.7,440.6 L209.4,439.4 L211.0,438.3 L212.7,437.2 L214.4,436.2 L216.2,435.2 L218.0,434.3 L219.8,433.5 L221.6,432.7 L223.5,431.9 L225.4,431.3 L227.3,430.7 L229.2,430.1 L231.2,429.7 L233.1,429.3 L235.1,428.9 L237.1,428.6 L239.1,428.3 L241.1,428.1 L243.1,427.9 L245.1,427.7 L247.1,427.5 L249.1,427.4 L251.1,427.2 L253.1,427.1 L255.1,427.0 L257.1,426.9 L259.1,426.8 L261.1,426.7 L263.1,426.7 L265.1,426.6 L267.1,426.5 L269.1,426.4 L271.1,426.4 L273.1,426.3 L275.1,426.3 L277.1,426.3 L279.1,426.3 L281.1,426.3 L283.1,426.4 L285.2,426.5 L287.2,426.6 L289.2,426.7 L291.2,426.9 L293.2,427.0 L295.2,427.2 L297.2,427.4 L299.2,427.5 L301.2,427.7 L303.1,427.9 L305.1,428.2 L307.1,428.5 L309.1,428.9 L311.0,429.4 L313.0,429.9 L314.9,430.4 L316.8,431.0 L318.8,431.6 L320.7,432.2 L322.5,432.9 L324.4,433.6 L326.3,434.3 L328.1,435.1 L330.0,435.9 L331.8,436.6 L333.7,437.5 L335.5,438.3 L337.3,439.2 L339.1,440.1 L340.8,441.1 L342.6,442.1 L344.3,443.1 L345.9,444.3 L347.6,445.4 L349.2,446.6 L350.8,447.8 L352.3,449.1 L353.9,450.4 L355.4,451.7 L356.9,453.1 L358.3,454.4 L359.7,455.9 L361.1,457.3 L362.4,458.8 L363.7,460.4 L365.0,461.9 L366.2,463.5 L367.4,465.1 L368.5,466.8 L369.6,468.4 L370.7,470.2 L371.7,471.9 L372.6,473.7 L373.5,475.5 L374.3,477.3 L375.1,479.1 L375.9,481.0 L376.6,482.9 L377.2,484.8 L377.8,486.7 L378.3,488.6 L378.6,490.6 L378.9,492.6 L379.0,494.6 L379.1,496.6 L379.2,498.6 L379.1,500.6 L378.9,502.6 L378.7,504.6 L378.4,506.6 L378.1,508.5 L377.7,510.5 L377.3,512.5 L376.9,514.4 L376.5,516.4 L376.0,518.3 L375.4,520.3 L374.8,522.2 L374.0,524.0 L373.3,525.9 L372.4,527.7 L371.5,529.5 L370.5,531.2 L369.6,533.0 L368.5,534.7 L367.5,536.4 L366.4,538.1 L365.3,539.8 L364.1,541.4 L362.9,543.0 L361.7,544.6 L360.4,546.1 L359.1,547.7 L357.8,549.2 L356.4,550.6 L355.0,552.0 L353.5,553.4 L352.1,554.8 L350.6,556.1 L349.1,557.5 L347.5,558.7 L346.0,560.0 L344.4,561.2 L342.8,562.4 L341.2,563.6 L339.6,564.8 L338.0,566.1 L336.4,567.3 L334.8,568.5 L333.2,569.7 L331.5,570.8 L329.8,571.9 L328.1,572.9 L326.3,573.8 L324.5,574.7 L322.7,575.6 L320.9,576.4 L319.0,577.1 L317.2,577.9 L315.3,578.7 L313.5,579.5 L311.6,580.2 L309.8,581.0 L307.9,581.8 L306.0,582.5 L304.2,583.2 L302.3,583.9 L300.4,584.6 L298.5,585.2 L296.5,585.7 L294.6,586.2 L292.7,586.7 L290.7,587.2 L288.8,587.6 L286.8,588.1 L284.8,588.5 L282.9,588.9 L280.9,589.3 L278.9,589.7 L277.0,590.0 L275.0,590.3 L273.0,590.6 L271.0,590.9 L270.0,591.0" stroke="#3c3c3c" stroke-width="2.9" fill="none" stroke-linejoin="round" />
<path d="M270.0,591.0 L269.2,592.9 L268.3,594.7 L267.5,596.6 L266.7,598.4 L265.9,600.3 L265.1,602.2 L264.3,604.1 L263.5,606.0 L262.8,607.9 L262.2,609.8 L261.6,611.8 L261.1,613.7 L260.6,615.7 L260.1,617.7 L259.8,619.6 L259.6,621.4 L259.7,622.7 L260.3,622.8 L261.2,621.9 L262.1,620.3 L262.9,618.5 L263.7,616.6 L264.4,614.7 L265.1,612.8 L265.8,610.9 L266.4,608.9 L267.0,607.0 L267.5,605.0 L268.0,603.0 L268.4,601.1 L268.7,599.0 L269.1,597.0 L269.4,595.0 L269.7,593.0 L270.0,591.0 L270.0,591.0" stroke="#3c3c3c" stroke-width="2.9" fill="none" stroke-linejoin="round" />
<path d="M270.0,591.0 L268.5,592.4 L267.0,593.8 L265.5,595.1 L263.9,596.5 L262.4,597.9 L260.9,599.3 L259.4,600.7 L258.0,602.1 L256.6,603.6 L255.7,605.0 L255.6,606.0 L256.4,606.3 L257.7,605.8 L259.1,604.6 L260.5,603.1 L261.8,601.5 L263.1,599.9 L264.4,598.3 L265.6,596.7 L266.9,595.1 L268.1,593.4 L269.4,591.8 L270.0,591.0" stroke="#3c3c3c" stroke-width="2.9" fill="none" stroke-linejoin="round" />
<path d="M270.0,591.0 L268.4,592.2 L266.8,593.4 L265.1,594.5 L263.5,595.7 L261.9,596.9 L260.2,598.0 L258.5,599.0 L256.8,600.0 L255.0,600.9 L253.1,601.6 L251.2,602.3 L249.3,602.8 L247.3,603.2 L245.4,603.6 L243.4,603.9 L241.4,604.3 L239.4,604.6 L237.5,605.0 L235.5,605.3 L233.5,605.7 L231.5,606.1 L229.6,606.4 L227.6,606.7 L225.6,607.0 L223.6,607.2 L221.6,607.4 L219.6,607.6 L217.6,607.6 L215.6,607.7 L213.6,607.6 L211.6,607.4 L209.7,607.1 L207.7,606.7 L205.8,606.2 L203.9,605.5 L202.0,604.8 L200.2,604.0 L198.3,603.2 L196.6,602.3 L194.8,601.3 L193.0,600.3 L191.3,599.3 L189.6,598.3 L187.9,597.2 L186.2,596.1 L184.6,595.0 L183.0,593.8 L181.4,592.5 L179.9,591.2 L178.4,589.9 L177.0,588.4 L175.7,587.0 L174.3,585.5 L173.0,583.9 L171.7,582.4 L170.5,580.9 L169.2,579.3 L167.9,577.7 L166.7,576.2 L165.4,574.6 L164.2,573.0 L163.0,571.4 L161.8,569.8 L160.7,568.1 L159.7,566.4 L158.6,564.7 L157.7,562.9 L156.8,561.1 L156.0,559.3 L155.2,557.5 L154.4,555.6 L153.7,553.7 L153.1,551.8 L152.5,549.9 L152.0,548.0 L151.5,546.1 L151.1,544.1 L150.7,542.1 L150.4,540.2 L150.2,538.2 L150.1,536.2 L150.1,534.2 L150.2,532.2 L150.3,530.2 L150.6,528.2 L150.9,526.2 L151.3,524.2 L151.7,522.3 L152.1,520.3 L152.6,518.4 L153.1,516.4 L153.7,514.5 L154.3,512.6 L154.9,510.7 L155.5,508.8 L156.2,506.9 L156.8,505.0 L157.6,503.1 L158.3,501.3 L159.1,499.4 L159.9,497.6 L160.7,495.8 L161.6,494.0 L162.6,492.2 L163.6,490.5 L164.6,488.7 L165.6,487.0 L166.7,485.3 L167.7,483.6 L168.7,481.9 L169.8,480.2 L170.8,478.4 L171.8,476.7 L172.8,475.0 L173.8,473.2 L174.8,471.5 L175.8,469.8 L176.8,468.0 L177.9,466.3 L178.9,464.6 L180.0,462.9 L181.1,461.3 L182.2,459.6 L183.4,458.0 L184.6,456.3 L185.8,454.7 L187.0,453.2 L188.3,451.6 L189.6,450.1 L191.0,448.7 L192.4,447.2 L193.8,445.8 L195.3,444.5 L196.8,443.1 L198.3,441.8 L199.8,440.5 L201.3,439.2 L202.9,437.9 L204.5,436.7 L206.1,435.5 L207.7,434.3 L209.4,433.2 L211.0,432.1 L212.7,431.0 L214.4,430.0 L216.2,429.0 L217.9,428.0 L219.7,427.1 L221.5,426.2 L223.3,425.3 L225.2,424.6 L227.0,423.8 L228.9,423.2 L230.8,422.6 L232.8,422.0 L234.7,421.5 L236.7,421.1 L238.6,420.7 L240.6,420.3 L242.6,420.0 L244.6,419.7 L246.5,419.4 L248.5,419.2 L250.5,419.0 L252.5,418.8 L254.5,418.7 L256.5,418.6 L258.5,418.5 L260.5,418.4 L262.5,418.4 L264.5,418.3 L266.5,418.3 L268.5,418.3 L270.6,418.4 L272.6,418.4 L274.6,418.6 L276.5,418.8 L278.5,419.0 L280.5,419.4 L282.5,419.7 L284.4,420.1 L286.4,420.6 L288.3,421.1 L290.3,421.6 L292.2,422.2 L294.1,422.7 L296.0,423.3 L298.0,423.9 L299.9,424.5 L301.8,425.1 L303.7,425.7 L305.6,426.4 L307.4,427.2 L309.2,428.0 L311.0,429.0 L312.7,429.9 L314.5,430.9 L316.2,432.0 L317.9,433.0 L319.6,434.1 L321.3,435.2 L322.9,436.4 L324.5,437.6 L326.1,438.8 L327.6,440.1 L329.1,441.5 L330.5,442.9 L331.9,444.3 L333.3,445.8 L334.6,447.3 L335.8,448.9 L337.1,450.4 L338.2,452.1 L339.4,453.7 L340.5,455.4 L341.6,457.0 L342.6,458.8 L343.7,460.5 L344.6,462.2 L345.6,464.0 L346.5,465.8 L347.3,467.6 L348.1,469.4 L348.9,471.3 L349.6,473.2 L350.1,475.1 L350.7,477.0 L351.1,479.0 L351.5,481.0 L351.8,482.9 L352.0,484.9 L352.2,486.9 L352.4,488.9 L352.6,490.9 L352.6,492.9 L352.6,494.9 L352.5,496.9 L352.3,498.9 L352.0,500.9 L351.6,502.8 L351.1,504.8 L350.5,506.7 L349.9,508.6 L349.3,510.5 L348.5,512.4 L347.8,514.2 L347.0,516.1 L346.1,517.9 L345.2,519.7 L344.3,521.4 L343.3,523.2 L342.3,524.9 L341.2,526.6 L340.1,528.2 L338.9,529.9 L337.7,531.5 L336.5,533.1 L335.3,534.7 L334.1,536.3 L333.0,537.9 L331.8,539.6 L330.7,541.3 L329.5,542.9 L328.4,544.5 L327.1,546.1 L325.8,547.6 L324.5,549.1 L323.1,550.5 L321.7,551.9 L320.2,553.3 L318.7,554.7 L317.3,556.1 L315.8,557.4 L314.3,558.8 L312.8,560.1 L311.3,561.4 L309.8,562.8 L308.3,564.1 L306.8,565.4 L305.3,566.7 L303.8,568.0 L302.2,569.3 L300.7,570.5 L299.1,571.8 L297.4,572.9 L295.8,574.1 L294.2,575.3 L292.6,576.4 L290.9,577.6 L289.3,578.8 L287.7,580.0 L286.2,581.3 L284.6,582.6 L283.1,583.9 L281.6,585.1 L279.9,586.3 L278.2,587.3 L276.4,588.2 L274.6,589.0 L272.8,589.8 L270.9,590.6 L270.0,591.0" stroke="#e2323a" stroke-width="2.9" fill="none" stroke-linejoin="round" />
<path d="M270.0,591.0 L271.9,590.4 L273.9,589.7 L275.8,589.1 L277.7,588.4 L279.6,587.7 L281.5,587.0 L283.4,586.2 L285.3,585.4 L287.1,584.7 L289.0,583.9 L290.9,583.1 L292.8,582.3 L294.6,581.6 L296.6,580.9 L298.5,580.2 L300.4,579.6 L302.4,579.1 L304.3,578.5 L306.3,578.0 L308.3,577.6 L310.3,577.3 L312.3,577.2 L314.2,577.4 L316.1,578.0 L317.7,579.0 L319.0,580.4 L319.9,582.1 L320.3,584.0 L320.2,585.9 L319.7,587.8 L318.8,589.6 L317.7,591.3 L316.3,592.6 L314.7,593.7 L312.9,594.6 L310.9,595.2 L309.0,595.6 L307.0,595.9 L305.0,596.2 L302.9,596.3 L300.9,596.4 L298.9,596.3 L296.9,596.2 L294.8,596.1 L292.8,595.9 L290.8,595.6 L288.8,595.3 L286.8,594.9 L284.8,594.6 L282.8,594.1 L280.8,593.7 L278.9,593.2 L276.9,592.7 L274.9,592.2 L273.0,591.7 L271.0,591.2 L270.0,591.0" stroke="#e2323a" stroke-width="2.9" fill="none" stroke-linejoin="round" />
<path d="M271,593 L280,608 L284.4,615.5 L286,612 L275,595 Z" fill="#1f5fd6" stroke="#1f5fd6" stroke-width="2.2" stroke-linejoin="round"/>
<path d="M270,592 L273,605 L276.9,610 L277,601 Z" fill="#e2323a" stroke="#e2323a" stroke-width="2.2" stroke-linejoin="round"/>
<path d="M269,592 L258,598 L256,602 L264,599 Z" fill="#e2323a" stroke="#e2323a" stroke-width="2" stroke-linejoin="round"/>
<circle cx="270" cy="592" r="4" fill="#1f5fd6"/>
<path d="M793.0,592.0 L791.2,591.0 L789.5,590.0 L787.7,589.0 L785.9,588.1 L784.1,587.1 L782.3,586.2 L780.5,585.3 L778.7,584.5 L776.9,583.5 L775.1,582.6 L773.4,581.6 L771.6,580.6 L769.8,579.6 L768.1,578.5 L766.4,577.5 L764.7,576.4 L763.0,575.3 L761.3,574.2 L759.6,573.1 L757.9,571.9 L756.3,570.7 L754.8,569.5 L753.3,568.1 L751.8,566.7 L750.5,565.2 L749.1,563.7 L747.9,562.1 L746.7,560.5 L745.5,558.8 L744.4,557.1 L743.3,555.4 L742.3,553.7 L741.4,551.9 L740.6,550.0 L739.8,548.2 L739.2,546.2 L738.7,544.3 L738.4,542.3 L738.3,540.3 L738.4,538.3 L738.7,536.4 L739.4,534.5 L740.4,532.8 L741.7,531.4 L743.3,530.1 L745.0,529.2 L746.8,528.5 L748.8,528.2 L750.7,528.2 L752.7,528.6 L754.5,529.4 L756.3,530.3 L757.9,531.5 L759.5,532.7 L761.1,534.0 L762.6,535.3 L764.1,536.7 L765.6,538.1 L767.0,539.5 L768.4,541.0 L769.8,542.4 L771.1,544.0 L772.4,545.5 L773.7,547.1 L774.9,548.6 L776.2,550.2 L777.4,551.9 L778.5,553.5 L779.7,555.2 L780.7,556.9 L781.8,558.7 L782.7,560.4 L783.7,562.2 L784.5,564.0 L785.4,565.9 L786.2,567.7 L787.0,569.6 L787.7,571.5 L788.4,573.4 L789.0,575.3 L789.6,577.2 L790.1,579.2 L790.6,581.1 L791.1,583.1 L791.5,585.1 L792.0,587.1 L792.4,589.0 L792.8,591.0 L793.0,592.0" stroke="#2e9e5e" stroke-width="2.9" fill="none" stroke-linejoin="round" stroke-dasharray="6,4"/>
<path d="M793.0,592.0 L793.3,590.0 L793.7,588.0 L794.0,586.0 L794.4,584.0 L794.9,582.0 L795.4,580.1 L795.9,578.1 L796.5,576.2 L797.1,574.2 L797.7,572.3 L798.3,570.4 L798.9,568.4 L799.5,566.5 L800.2,564.6 L800.8,562.7 L801.5,560.7 L802.1,558.8 L802.8,556.9 L803.5,555.0 L804.3,553.1 L805.1,551.3 L805.9,549.4 L806.8,547.6 L807.8,545.9 L808.9,544.2 L810.2,542.7 L811.7,541.3 L813.3,540.3 L814.9,539.8 L816.2,540.1 L817.1,541.3 L817.3,543.1 L817.3,545.0 L817.1,547.0 L816.7,549.0 L816.4,551.0 L815.9,553.0 L815.4,554.9 L814.7,556.9 L814.1,558.8 L813.3,560.7 L812.5,562.5 L811.7,564.4 L810.8,566.2 L809.9,568.0 L808.9,569.8 L807.9,571.6 L806.9,573.3 L805.8,575.0 L804.7,576.7 L803.5,578.3 L802.3,580.0 L801.1,581.6 L799.9,583.2 L798.7,584.9 L797.4,586.5 L796.2,588.0 L794.9,589.6 L793.6,591.2 L793.0,592.0" stroke="#2e9e5e" stroke-width="2.9" fill="none" stroke-linejoin="round" stroke-dasharray="6,4"/>
<path d="M793.0,592.0 L794.2,590.4 L795.4,588.8 L796.8,587.3 L798.2,585.8 L799.6,584.4 L801.0,583.0 L802.5,581.6 L804.0,580.2 L805.5,578.9 L807.0,577.5 L808.5,576.2 L810.0,574.9 L811.6,573.6 L813.3,572.4 L814.9,571.3 L816.6,570.2 L818.4,569.2 L820.1,568.2 L821.9,567.2 L823.6,566.2 L825.4,565.2 L827.1,564.1 L828.9,563.1 L830.7,562.2 L832.5,561.3 L834.3,560.5 L836.2,559.8 L838.1,559.2 L840.1,558.7 L842.0,558.3 L844.0,557.9 L846.0,557.8 L848.0,557.7 L850.1,557.8 L852.0,558.1 L854.0,558.6 L855.8,559.4 L857.4,560.4 L858.8,561.8 L859.9,563.4 L860.8,565.2 L861.4,567.1 L861.9,569.1 L862.3,571.1 L862.4,573.1 L862.3,575.1 L862.1,577.0 L861.5,579.0 L860.9,580.9 L860.0,582.7 L859.1,584.5 L858.0,586.2 L856.9,587.9 L855.7,589.5 L854.4,591.0 L853.0,592.5 L851.5,593.8 L850.0,595.1 L848.4,596.3 L846.7,597.5 L845.0,598.6 L843.3,599.7 L841.6,600.7 L839.8,601.6 L837.9,602.4 L836.1,603.1 L834.1,603.7 L832.2,604.1 L830.2,604.3 L828.1,604.4 L826.1,604.4 L824.1,604.2 L822.1,604.0 L820.1,603.8 L818.1,603.5 L816.1,603.2 L814.1,602.8 L812.2,602.3 L810.2,601.8 L808.3,601.3 L806.4,600.6 L804.5,599.9 L802.6,599.1 L800.8,598.3 L799.0,597.3 L797.4,596.1 L795.9,594.8 L794.4,593.4 L793.0,592.0 L793.0,592.0" stroke="#2e9e5e" stroke-width="2.9" fill="none" stroke-linejoin="round" stroke-dasharray="6,4"/>
<path d="M793.0,592.0 L793.0,594.1 L792.9,596.1 L792.9,598.2 L792.9,600.2 L792.9,602.3 L792.9,604.3 L792.9,606.4 L793.0,608.4 L793.1,610.5 L793.2,612.5 L793.4,614.5 L793.7,616.5 L794.1,618.3 L794.7,619.3 L795.3,619.1 L795.9,617.9 L796.4,616.1 L796.7,614.1 L796.9,612.1 L796.9,610.0 L796.7,608.0 L796.4,606.0 L796.0,603.9 L795.5,601.9 L795.0,600.0 L794.5,598.0 L794.0,596.0 L793.5,594.0 L793.0,592.0 L793.0,592.0" stroke="#2e9e5e" stroke-width="2.9" fill="none" stroke-linejoin="round" stroke-dasharray="6,4"/>
<path d="M793.0,592.0 L791.0,592.4 L789.1,592.8 L787.1,593.1 L785.1,593.5 L783.1,593.8 L781.1,593.9 L779.1,593.8 L777.2,593.4 L775.4,592.7 L773.8,591.7 L772.3,590.3 L771.3,588.9 L771.1,587.4 L771.7,586.1 L773.2,585.3 L775.0,584.7 L776.9,584.3 L778.8,583.8 L780.3,583.2 L781.0,582.4 L780.6,581.5 L779.2,580.6 L777.5,579.8 L775.6,579.0 L773.8,578.2 L772.1,577.2 L770.4,576.1 L768.8,574.9 L767.1,573.7 L765.6,572.5 L764.0,571.2 L762.5,569.9 L761.1,568.5 L759.8,567.0 L758.6,565.4 L757.5,563.7 L756.5,561.9 L755.6,560.1 L754.7,558.3 L753.9,556.5 L753.0,554.7 L752.1,552.9 L751.2,551.1 L750.4,549.2 L749.7,547.4 L749.0,545.5 L748.5,543.6 L748.1,541.6 L747.8,539.6 L747.7,537.6 L747.8,535.7 L748.3,533.8 L749.3,532.2 L750.7,531.0 L752.3,530.4 L754.2,530.4 L756.1,530.8 L757.9,531.5 L759.7,532.4 L761.5,533.3 L763.2,534.4 L764.9,535.5 L766.5,536.7 L768.0,538.1 L769.4,539.5 L770.7,541.0 L772.0,542.5 L773.3,544.1 L774.5,545.7 L775.7,547.3 L776.8,549.0 L777.9,550.6 L778.9,552.4 L779.9,554.1 L780.9,555.9 L781.8,557.7 L782.6,559.5 L783.5,561.3 L784.3,563.2 L785.0,565.0 L785.8,566.9 L786.5,568.8 L787.1,570.7 L787.8,572.6 L788.4,574.5 L788.9,576.4 L789.5,578.4 L790.1,580.3 L790.6,582.2 L791.1,584.2 L791.6,586.1 L792.1,588.1 L792.5,590.0 L793.0,592.0 L793.0,592.0" stroke="#1f5fd6" stroke-width="2.9" fill="none" stroke-linejoin="round" stroke-dasharray="6,4"/>
<path d="M793.0,592.0 L793.1,590.0 L793.2,588.0 L793.3,586.0 L793.5,584.0 L793.6,581.9 L793.8,579.9 L794.0,577.9 L794.2,575.9 L794.4,573.9 L794.6,571.9 L794.8,569.9 L795.0,567.9 L795.2,565.9 L795.5,563.9 L795.8,561.9 L796.1,559.9 L796.5,558.0 L797.0,556.0 L797.5,554.1 L798.1,552.1 L798.8,550.2 L799.5,548.4 L800.2,546.5 L801.0,544.6 L801.8,542.8 L802.6,540.9 L803.4,539.1 L804.2,537.2 L805.1,535.4 L806.0,533.6 L807.0,531.9 L808.0,530.1 L809.1,528.5 L810.3,526.9 L811.6,525.3 L813.0,523.9 L814.5,522.5 L816.0,521.2 L817.6,520.0 L819.3,518.9 L821.0,517.9 L822.8,516.9 L824.6,516.0 L826.5,515.3 L828.4,514.6 L830.3,514.1 L832.3,513.6 L834.2,513.4 L836.2,513.5 L838.1,513.9 L839.9,514.7 L841.5,515.9 L842.9,517.2 L844.1,518.8 L845.2,520.5 L846.0,522.3 L846.6,524.2 L847.0,526.1 L847.3,528.1 L847.4,530.1 L847.5,532.2 L847.5,534.2 L847.6,536.2 L847.6,538.2 L847.6,540.2 L847.5,542.2 L847.5,544.2 L847.4,546.2 L847.3,548.3 L847.3,550.3 L847.4,552.3 L847.6,554.3 L848.0,556.2 L848.6,558.1 L849.4,560.0 L850.3,561.8 L851.1,563.6 L851.8,565.5 L852.4,567.4 L852.7,569.4 L852.8,571.4 L852.8,573.4 L852.6,575.4 L852.3,577.4 L851.9,579.3 L851.2,581.2 L850.2,582.9 L849.0,584.5 L847.7,586.0 L846.2,587.3 L844.6,588.6 L843.0,589.8 L841.4,591.0 L839.8,592.1 L838.1,593.3 L836.4,594.3 L834.6,595.2 L832.7,596.0 L830.8,596.7 L828.9,597.1 L826.9,597.5 L824.9,597.7 L822.9,597.8 L820.9,597.8 L818.9,597.9 L816.9,597.8 L814.9,597.8 L812.8,597.7 L810.8,597.5 L808.8,597.3 L806.8,597.1 L804.8,596.8 L802.9,596.4 L800.9,596.0 L799.0,595.4 L797.1,594.7 L795.4,593.8 L793.8,592.6 L793.0,592.0" stroke="#1f5fd6" stroke-width="2.9" fill="none" stroke-linejoin="round" stroke-dasharray="6,4"/>
<path d="M793.0,592.0 L791.0,592.0 L789.0,591.9 L787.0,591.9 L785.0,591.8 L783.0,591.8 L781.0,591.7 L779.0,591.6 L777.0,591.5 L775.0,591.4 L773.0,591.2 L771.0,591.0 L769.0,590.8 L767.0,590.5 L765.0,590.2 L763.0,589.9 L761.1,589.6 L759.1,589.2 L757.1,588.8 L755.2,588.4 L753.2,587.9 L751.3,587.4 L749.3,586.9 L747.4,586.4 L745.5,585.8 L743.6,585.2 L741.7,584.5 L739.8,583.7 L738.0,582.9 L736.2,582.1 L734.4,581.2 L732.6,580.2 L730.9,579.2 L729.2,578.2 L727.6,577.0 L726.0,575.8 L724.4,574.5 L722.9,573.2 L721.4,571.9 L720.0,570.5 L718.6,569.0 L717.3,567.5 L715.9,566.0 L714.7,564.5 L713.4,562.9 L712.2,561.3 L711.1,559.7 L710.0,558.0 L708.9,556.3 L707.9,554.6 L707.0,552.8 L706.1,551.0 L705.2,549.2 L704.4,547.4 L703.6,545.5 L702.9,543.6 L702.3,541.8 L701.6,539.9 L701.1,537.9 L700.6,536.0 L700.1,534.1 L699.6,532.1 L699.2,530.1 L698.8,528.2 L698.4,526.2 L698.0,524.2 L697.7,522.3 L697.4,520.3 L697.1,518.3 L696.9,516.3 L696.8,514.3 L696.8,512.3 L696.9,510.3 L696.9,508.3 L697.0,506.3 L697.0,504.3 L697.1,502.3 L697.2,500.3 L697.4,498.3 L697.6,496.3 L697.9,494.3 L698.3,492.4 L698.8,490.4 L699.5,488.5 L700.2,486.7 L701.0,484.8 L701.9,483.0 L702.8,481.3 L703.8,479.5 L704.8,477.8 L705.8,476.0 L706.8,474.3 L707.9,472.6 L708.9,470.9 L710.0,469.2 L711.1,467.5 L712.2,465.9 L713.4,464.3 L714.6,462.7 L715.9,461.1 L717.2,459.6 L718.5,458.1 L719.9,456.7 L721.3,455.2 L722.8,453.9 L724.3,452.5 L725.8,451.2 L727.3,449.9 L728.9,448.7 L730.5,447.5 L732.2,446.4 L733.8,445.3 L735.5,444.2 L737.3,443.2 L739.1,442.3 L740.8,441.4 L742.7,440.5 L744.5,439.7 L746.3,438.9 L748.1,438.1 L750.0,437.3 L751.8,436.5 L753.7,435.7 L755.5,435.0 L757.4,434.2 L759.3,433.5 L761.2,432.9 L763.1,432.2 L765.0,431.6 L766.9,431.0 L768.8,430.4 L770.7,429.8 L772.7,429.3 L774.6,428.8 L776.6,428.4 L778.5,428.0 L780.5,427.6 L782.5,427.3 L784.5,427.0 L786.5,426.8 L788.4,426.7 L790.5,426.6 L792.5,426.5 L794.5,426.5 L796.5,426.5 L798.5,426.5 L800.5,426.5 L802.5,426.6 L804.5,426.6 L806.5,426.7 L808.5,426.8 L810.5,426.9 L812.5,427.0 L814.5,427.1 L816.5,427.3 L818.5,427.5 L820.5,427.7 L822.5,427.8 L824.5,428.0 L826.5,428.3 L828.5,428.5 L830.4,428.7 L832.4,429.0 L834.4,429.3 L836.4,429.6 L838.4,430.0 L840.3,430.4 L842.3,430.8 L844.2,431.2 L846.2,431.7 L848.1,432.2 L850.1,432.8 L852.0,433.4 L853.9,434.0 L855.8,434.6 L857.6,435.4 L859.5,436.1 L861.3,436.9 L863.2,437.7 L865.0,438.6 L866.8,439.4 L868.6,440.4 L870.3,441.3 L872.1,442.3 L873.8,443.4 L875.4,444.5 L877.1,445.7 L878.7,446.9 L880.2,448.1 L881.7,449.5 L883.2,450.8 L884.6,452.3 L885.9,453.8 L887.2,455.3 L888.5,456.8 L889.7,458.4 L890.9,460.0 L892.0,461.7 L893.1,463.4 L894.2,465.1 L895.2,466.8 L896.1,468.6 L897.0,470.4 L897.9,472.2 L898.8,474.0 L899.6,475.8 L900.4,477.6 L901.2,479.5 L901.9,481.3 L902.6,483.2 L903.2,485.1 L903.7,487.1 L904.2,489.0 L904.6,491.0 L905.0,492.9 L905.2,494.9 L905.4,496.9 L905.5,498.9 L905.6,500.9 L905.7,502.9 L905.7,504.9 L905.7,506.9 L905.7,508.9 L905.6,510.9 L905.5,512.9 L905.4,514.9 L905.1,516.9 L904.9,518.9 L904.6,520.9 L904.2,522.9 L903.9,524.8 L903.5,526.8 L903.0,528.8 L902.5,530.7 L902.0,532.6 L901.4,534.6 L900.8,536.5 L900.2,538.3 L899.5,540.2 L898.7,542.1 L897.9,543.9 L897.1,545.8 L896.3,547.6 L895.4,549.4 L894.5,551.2 L893.6,553.0 L892.6,554.7 L891.6,556.5 L890.6,558.2 L889.6,559.9 L888.5,561.6 L887.4,563.3 L886.3,565.0 L885.2,566.6 L884.0,568.2 L882.8,569.8 L881.5,571.4 L880.2,572.9 L878.9,574.4 L877.5,575.8 L876.1,577.3 L874.6,578.6 L873.1,580.0 L871.6,581.3 L870.0,582.5 L868.4,583.7 L866.8,584.8 L865.1,585.9 L863.4,587.0 L861.6,588.0 L859.9,588.9 L858.1,589.8 L856.3,590.7 L854.5,591.6 L852.7,592.5 L850.9,593.4 L849.1,594.2 L847.3,595.1 L845.4,595.9 L843.6,596.6 L841.7,597.3 L839.8,597.9 L837.9,598.5 L835.9,598.9 L833.9,599.2 L831.9,599.4 L830.0,599.5 L827.9,599.6 L825.9,599.5 L823.9,599.4 L821.9,599.3 L819.9,599.1 L818.0,598.9 L816.0,598.7 L814.0,598.4 L812.0,598.0 L810.0,597.6 L808.1,597.2 L806.1,596.7 L804.2,596.2 L802.3,595.7 L800.3,595.1 L798.4,594.5 L796.6,593.8 L794.8,592.9 L793.0,592.0 L793.0,592.0" stroke="#3c3c3c" stroke-width="2.9" fill="none" stroke-linejoin="round" />
<path d="M793.0,592.0 L792.3,593.9 L791.6,595.8 L790.8,597.7 L790.1,599.6 L789.5,601.6 L788.8,603.5 L788.2,605.4 L787.7,607.4 L787.2,609.4 L786.7,611.4 L786.3,613.4 L785.9,615.4 L785.8,617.3 L786.0,618.8 L786.7,619.5 L787.8,619.1 L788.8,617.8 L789.7,616.1 L790.4,614.2 L791.1,612.2 L791.7,610.3 L792.3,608.4 L792.9,606.4 L793.4,604.4 L794.0,602.5 L794.4,600.5 L794.7,598.5 L794.7,596.5 L794.3,594.6 L793.5,592.9 L793.0,592.0" stroke="#3c3c3c" stroke-width="2.9" fill="none" stroke-linejoin="round" />
<path d="M793.0,592.0 L791.5,593.3 L790.0,594.6 L788.4,595.8 L786.7,596.7 L784.8,597.1 L782.9,597.0 L781.1,596.5 L779.2,595.8 L777.4,595.0 L775.6,594.2 L773.7,593.4 L771.9,592.7 L770.0,591.9 L768.1,591.2 L766.2,590.5 L764.4,589.7 L762.6,588.8 L760.8,587.9 L759.1,586.8 L757.5,585.7 L756.0,584.4 L754.7,582.9 L753.5,581.3 L752.7,579.5 L752.2,577.6 L752.1,575.7 L752.3,573.7 L752.8,571.8 L753.6,570.1 L754.7,568.4 L755.8,566.8 L756.6,565.0 L757.1,563.2 L757.1,561.2 L756.7,559.3 L756.1,557.5 L755.2,555.6 L754.3,553.9 L753.3,552.2 L752.2,550.5 L751.1,548.8 L750.1,547.0 L749.1,545.3 L748.1,543.5 L747.2,541.8 L746.3,540.0 L745.5,538.1 L744.6,536.3 L743.8,534.5 L743.0,532.7 L742.3,530.8 L741.5,528.9 L740.8,527.0 L740.2,525.1 L739.6,523.2 L739.0,521.3 L738.4,519.4 L737.8,517.5 L737.3,515.5 L736.8,513.6 L736.4,511.6 L736.0,509.7 L735.6,507.7 L735.3,505.7 L735.0,503.7 L734.7,501.8 L734.5,499.8 L734.3,497.8 L734.2,495.8 L734.1,493.8 L734.0,491.8 L734.0,489.7 L734.0,487.7 L734.0,485.7 L734.1,483.7 L734.2,481.7 L734.4,479.7 L734.6,477.7 L734.8,475.7 L735.2,473.8 L735.6,471.8 L736.0,469.9 L736.6,467.9 L737.2,466.0 L737.8,464.1 L738.5,462.2 L739.2,460.4 L740.0,458.5 L740.9,456.7 L741.8,454.9 L742.7,453.2 L743.7,451.4 L744.8,449.7 L745.9,448.0 L747.1,446.4 L748.3,444.8 L749.6,443.3 L750.9,441.8 L752.3,440.4 L753.8,439.0 L755.3,437.7 L756.9,436.4 L758.5,435.2 L760.1,434.0 L761.8,432.9 L763.4,431.8 L765.2,430.8 L766.9,429.8 L768.7,428.9 L770.5,428.0 L772.3,427.1 L774.1,426.3 L776.0,425.6 L777.8,424.8 L779.7,424.1 L781.6,423.4 L783.5,422.7 L785.4,422.0 L787.3,421.4 L789.2,420.9 L791.1,420.4 L793.1,420.0 L795.1,419.7 L797.1,419.3 L799.1,419.0 L801.0,418.8 L803.0,418.5 L805.0,418.3 L807.0,418.1 L809.0,417.9 L811.0,417.8 L813.0,417.8 L815.0,417.7 L817.0,417.7 L819.0,417.8 L821.0,417.9 L823.1,418.0 L825.1,418.1 L827.1,418.3 L829.1,418.4 L831.0,418.7 L833.0,418.9 L835.0,419.2 L837.0,419.5 L839.0,419.9 L840.9,420.3 L842.9,420.8 L844.8,421.3 L846.7,421.9 L848.6,422.5 L850.5,423.2 L852.4,423.9 L854.2,424.7 L856.1,425.5 L857.9,426.3 L859.7,427.2 L861.5,428.1 L863.3,429.0 L865.0,430.0 L866.8,431.0 L868.5,432.0 L870.2,433.1 L871.9,434.2 L873.5,435.4 L875.2,436.5 L876.8,437.7 L878.4,438.9 L880.0,440.1 L881.5,441.4 L883.1,442.7 L884.6,444.0 L886.1,445.3 L887.6,446.6 L889.0,448.0 L890.5,449.4 L891.8,450.9 L893.2,452.4 L894.5,453.9 L895.8,455.4 L897.0,457.0 L898.2,458.7 L899.3,460.3 L900.4,462.0 L901.4,463.7 L902.4,465.5 L903.4,467.2 L904.4,468.9 L905.4,470.7 L906.3,472.5 L907.3,474.2 L908.2,476.0 L909.0,477.8 L909.8,479.7 L910.5,481.6 L911.2,483.4 L911.8,485.4 L912.3,487.3 L912.8,489.3 L913.2,491.2 L913.6,493.2 L913.9,495.2 L914.3,497.1 L914.6,499.1 L914.8,501.1 L915.1,503.1 L915.3,505.1 L915.5,507.1 L915.7,509.1 L915.8,511.1 L915.9,513.1 L915.9,515.1 L915.9,517.1 L915.8,519.1 L915.7,521.1 L915.5,523.1 L915.3,525.1 L915.1,527.1 L914.9,529.1 L914.6,531.1 L914.3,533.1 L914.0,535.0 L913.6,537.0 L913.2,539.0 L912.7,540.9 L912.2,542.9 L911.7,544.8 L911.1,546.7 L910.5,548.6 L909.9,550.5 L909.3,552.4 L908.6,554.3 L907.8,556.2 L907.1,558.1 L906.3,559.9 L905.5,561.7 L904.6,563.5 L903.7,565.3 L902.7,567.1 L901.7,568.8 L900.6,570.5 L899.6,572.2 L898.4,573.9 L897.3,575.5 L896.1,577.1 L894.8,578.7 L893.6,580.2 L892.3,581.7 L890.9,583.2 L889.5,584.7 L888.1,586.1 L886.7,587.5 L885.3,588.9 L883.8,590.3 L882.2,591.5 L880.7,592.8 L879.0,594.0 L877.4,595.1 L875.7,596.1 L873.9,597.1 L872.1,597.9 L870.3,598.8 L868.4,599.5 L866.5,600.2 L864.6,600.9 L862.8,601.6 L860.9,602.3 L859.0,602.9 L857.1,603.5 L855.1,604.0 L853.2,604.5 L851.2,604.9 L849.2,605.3 L847.3,605.7 L845.3,606.1 L843.3,606.5 L841.4,606.8 L839.4,607.1 L837.4,607.3 L835.4,607.5 L833.4,607.5 L831.4,607.5 L829.4,607.3 L827.4,607.1 L825.4,606.8 L823.4,606.5 L821.5,606.1 L819.5,605.6 L817.6,605.1 L815.7,604.5 L813.8,603.9 L811.9,603.2 L810.0,602.4 L808.2,601.6 L806.4,600.8 L804.6,599.9 L802.8,599.0 L801.0,598.0 L799.4,596.9 L797.7,595.7 L796.1,594.5 L794.6,593.3 L793.0,592.0 L793.0,592.0" stroke="#e2323a" stroke-width="2.9" fill="none" stroke-linejoin="round" />
<path d="M793.0,592.0 L792.4,594.0 L791.8,595.9 L791.2,597.9 L790.6,599.9 L790.1,601.9 L789.5,603.9 L789.1,605.9 L788.8,607.9 L788.6,610.0 L788.6,611.9 L789.0,613.3 L789.8,613.8 L790.9,613.2 L791.8,611.7 L792.6,609.9 L793.2,607.9 L793.6,605.9 L794.1,603.9 L794.4,601.8 L794.7,599.8 L794.7,597.8 L794.4,595.8 L793.8,593.9 L793.0,592.0 L793.0,592.0" stroke="#e2323a" stroke-width="2.9" fill="none" stroke-linejoin="round" />
<path d="M793.0,592.0 L793.5,594.0 L794.1,596.0 L794.6,598.0 L795.2,600.0 L795.7,602.0 L796.3,604.0 L797.0,605.8 L797.8,607.3 L798.7,608.0 L799.3,607.4 L799.6,605.9 L799.4,604.1 L798.9,602.1 L798.3,600.1 L797.6,598.2 L796.8,596.3 L795.8,594.5 L794.6,593.1 L793.0,592.0 L793.0,592.0" stroke="#e2323a" stroke-width="2.9" fill="none" stroke-linejoin="round" />
<circle cx="793" cy="592" r="4" fill="#1f5fd6"/>
<text x="213.9" y="842.2" font-size="32" font-style="italic">xoz</text>
<text x="266.0" y="842.2" font-size="33">plane</text>
<text x="729.7" y="842.2" font-size="32" font-style="italic">yoz</text>
<text x="782.3" y="842.2" font-size="33">plane</text>
<line x1="87" y1="867.2" x2="170.5" y2="867.2" stroke="#e4101a" stroke-width="3.4" stroke-linecap="round"/>
<line x1="86" y1="898.7" x2="172" y2="898.7" stroke="#1010d8" stroke-width="3.6" stroke-dasharray="12,6.7"/>
<text x="182.3" y="878.8" font-size="30.0" text-anchor="start" textLength="301" lengthAdjust="spacingAndGlyphs">LHCP (with metasurface)</text>
<text x="182.3" y="909.7" font-size="30.0" text-anchor="start" textLength="301" lengthAdjust="spacingAndGlyphs">RHCP (with metasurface)</text>
<line x1="586" y1="869.3" x2="669.5" y2="869.3" stroke="#0a0a0a" stroke-width="3.6" stroke-linecap="round"/>
<line x1="585.3" y1="900.9" x2="672" y2="900.9" stroke="#1aa050" stroke-width="3.6" stroke-dasharray="11.4,7.3"/>
<text x="680.7" y="880.6" font-size="30.0" text-anchor="start" textLength="292" lengthAdjust="spacingAndGlyphs">LHCP (w/o metasurface)</text>
<text x="680.7" y="911.4" font-size="30.0" text-anchor="start" textLength="292" lengthAdjust="spacingAndGlyphs">RHCP (w/o metasurface)</text>
<text x="518.5" y="945.0" font-size="32.0" text-anchor="middle" >(c)</text>
</svg></body></html>
